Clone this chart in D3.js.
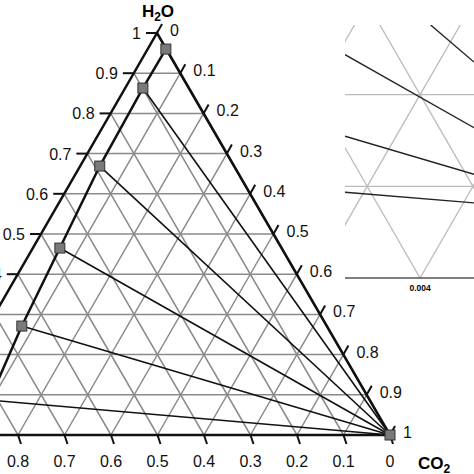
<!DOCTYPE html>
<html><head><meta charset="utf-8">
<script src="https://cdn.jsdelivr.net/npm/d3@7"></script>
<style>body{margin:0;background:#fff}svg{display:block}</style>
</head><body>
<svg id="c" width="474" height="474"></svg>
<script>
// Data
const ticks = [0,0.1,0.2,0.3,0.4,0.5,0.6,0.7,0.8,0.9,1];
const gridLevels = [0.1,0.2,0.3,0.4,0.5,0.6,0.7,0.8,0.9];
const markerH2O = [0.96,0.863,0.669,0.465,0.271,0.087];
const markerCO2 = [0.039,0.038,0.042,0.058,0.073,0.095];
const innerEndH2O = 0, innerEndCO2 = 0.105;
// inset (zoomed) lines, endpoints in inset grid units
const insetX = [0.00329, 0.00451];
const insetY = [0, 0.00239];
const insetLines = [
  [[0.00410,0.00239],[0.00451,0.00204]],
  [[0.00329,0.00211],[0.00451,0.00142]],
  [[0.00329,0.00134],[0.00451,0.00098]],
  [[0.00329,0.00081],[0.00451,0.00071]]
];
const insetTick = 0.004;

const svg = d3.select("#c");
const A=[157,33], C=[390,435], L=[-75,435];
const hs = d3.scaleLinear().domain([0,1]).range([0,1]);
function P(h,c){const t=1-h-c;return [hs(h)*A[0]+c*C[0]+t*L[0], hs(h)*A[1]+c*C[1]+t*L[1]];}
const line = d3.line();
const font="Liberation Sans, Arial, sans-serif";

const g = svg.append("g");
gridLevels.forEach(k=>{
  [[P(k,0),P(k,1-k)],[P(0,k),P(1-k,k)],[P(0,1-k),P(1-k,0)]].forEach(s=>{
    g.append("path").attr("d",line(s)).attr("stroke","#8a8a8a").attr("stroke-width",1.5).attr("fill","none");
  });
});
markerH2O.forEach((h,i)=>{
  g.append("path").attr("d",line([P(h,markerCO2[i]),P(0,1)])).attr("stroke","#111").attr("stroke-width",1.6).attr("fill","none");
});
const inner = markerH2O.map((h,i)=>P(h,markerCO2[i])).concat([P(innerEndH2O,innerEndCO2)]);
g.append("path").attr("d",line(inner)).attr("stroke","#111").attr("stroke-width",2.5).attr("fill","none");
g.append("path").attr("d",line([P(1,0),P(0,1),P(0,0)])+"Z").attr("stroke","#111").attr("stroke-width",2.5).attr("fill","none");
ticks.forEach(v=>{
  const pl=P(v,0);
  g.append("line").attr("x1",pl[0]).attr("y1",pl[1]).attr("x2",pl[0]-11).attr("y2",pl[1]).attr("stroke","#111").attr("stroke-width",2);
  g.append("text").attr("x",pl[0]-16).attr("y",pl[1]+6).attr("text-anchor","end").text(v);
  const pr=P(1-v,v);
  g.append("line").attr("x1",pr[0]).attr("y1",pr[1]).attr("x2",pr[0]+5).attr("y2",pr[1]-9).attr("stroke","#111").attr("stroke-width",2);
  g.append("text").attr("x",pr[0]+13).attr("y",pr[1]+3).attr("text-anchor","start").text(v);
  const pb=P(0,1-v);
  g.append("line").attr("x1",pb[0]).attr("y1",pb[1]).attr("x2",pb[0]+3).attr("y2",pb[1]+9).attr("stroke","#111").attr("stroke-width",2);
  g.append("text").attr("x",pb[0]).attr("y",pb[1]+32).attr("text-anchor","middle").text(v);
});
g.selectAll("text").attr("font-family",font).attr("font-size",16).attr("fill","#111");
const pts = markerH2O.map((h,i)=>P(h,markerCO2[i])).concat([P(0,1)]);
g.selectAll("rect.m").data(pts).join("rect").attr("x",d=>d[0]-5).attr("y",d=>d[1]-5).attr("width",10).attr("height",10)
  .attr("fill","#7a7a7a").attr("stroke","#333").attr("stroke-width",1);
const t1=svg.append("text").attr("x",158).attr("y",17).attr("text-anchor","middle").attr("font-family",font).attr("font-weight","bold").attr("font-size",17);
t1.append("tspan").text("H");t1.append("tspan").attr("font-size",12).attr("dy",4).text("2");t1.append("tspan").attr("dy",-4).text("O");
const t2=svg.append("text").attr("x",418).attr("y",469).attr("font-family",font).attr("font-weight","bold").attr("font-size",17);
t2.append("tspan").text("CO");t2.append("tspan").attr("font-size",12).attr("dy",4).text("2");

const ix=d3.scaleLinear().domain(insetX).range([345,474]);
const iy=d3.scaleLinear().domain(insetY).range([278,25]);
const ins=svg.append("g");
ins.append("defs").append("clipPath").attr("id","ic").append("rect").attr("x",345).attr("y",25).attr("width",129).attr("height",253);
const ig=ins.append("g").attr("clip-path","url(#ic)");
const dx=0.001, dy=0.001*Math.sqrt(3)/2;
[1,2].forEach(j=>ig.append("line").attr("x1",ix(insetX[0])).attr("x2",ix(insetX[1])).attr("y1",iy(j*dy)).attr("y2",iy(j*dy)).attr("stroke","#bbb").attr("stroke-width",1.3));
[-3,-2,-1,0,1,2,3].forEach(k=>{
  const x0=insetTick+k*dx;
  ig.append("line").attr("x1",ix(x0)).attr("y1",iy(0)).attr("x2",ix(x0+4*dx/2)).attr("y2",iy(4*dy)).attr("stroke","#bbb").attr("stroke-width",1.3);
  ig.append("line").attr("x1",ix(x0)).attr("y1",iy(0)).attr("x2",ix(x0-4*dx/2)).attr("y2",iy(4*dy)).attr("stroke","#bbb").attr("stroke-width",1.3);
});
insetLines.forEach(s=>ig.append("path").attr("d",line(s.map(p=>[ix(p[0]),iy(p[1])]))).attr("stroke","#222").attr("stroke-width",1.4).attr("fill","none"));
ins.append("line").attr("x1",345).attr("x2",474).attr("y1",iy(0)).attr("y2",iy(0)).attr("stroke","#555").attr("stroke-width",1.5);
ins.append("text").attr("x",ix(insetTick)).attr("y",iy(0)+13).attr("text-anchor","middle").attr("font-family",font).attr("font-weight","bold").attr("font-size",8.5).text(insetTick);
</script>
</body></html>
